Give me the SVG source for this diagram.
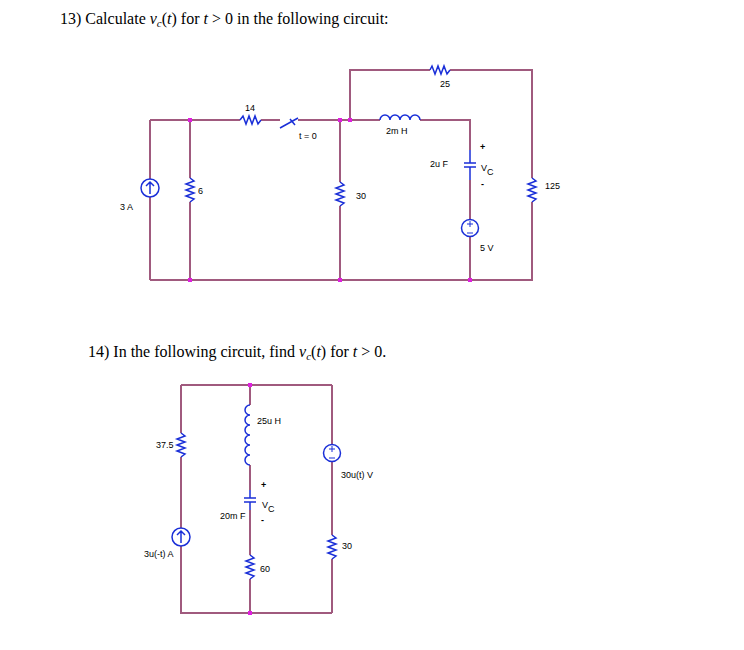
<svg xmlns="http://www.w3.org/2000/svg" width="744" height="650" viewBox="0 0 744 650">
<style>
.w{stroke:#a05a7e;stroke-width:2;fill:none}
.c{stroke:#1a2fd8;stroke-width:1.5;fill:none}
.s{stroke:#1a2fd8;stroke-width:1;fill:none}
.t{font-family:"Liberation Serif",serif;font-size:16px;fill:#000}
.l{font-family:"Liberation Sans",sans-serif;font-size:9px;fill:#000}
.d{fill:#e020e0}
</style>
<rect width="744" height="650" fill="#fff"/>
<text class="t" x="60" y="24">13) Calculate <tspan font-style="italic">v</tspan><tspan font-size="11" font-style="italic" dy="3">c</tspan><tspan dy="-3">(</tspan><tspan font-style="italic">t</tspan>) for <tspan font-style="italic">t</tspan> &gt; 0 in the following circuit:</text>
<text class="t" x="88" y="357">14) In the following circuit, find <tspan font-style="italic">v</tspan><tspan font-size="11" font-style="italic" dy="3">c</tspan><tspan dy="-3">(</tspan><tspan font-style="italic">t</tspan>) for <tspan font-style="italic">t</tspan> &gt; 0.</text>
<g id="connectors">
<path class="w" d="M150,120H240M261,120H280M298,120H380M420,120H470V150M470,180V219.5M470,236.5V280M150,280H532V202M532,178V70H450M430,70H350V120M150,120V179M150,197V280M190,120V178M190,202V280M340,120V182M340,206V280"/>
<path class="w" d="M181,385H332M181,385V433M181,457V528M181,546V613H332M250,385V405M250,465V490M250,510V555M250,579V613M332,385V444.5M332,461.5V535M332,559V613"/>
</g>
<g id="c1">
<g id="src3A"><circle class="c" cx="150" cy="188" r="9"/><path class="c" d="M150,194V182M146,186L150,182L154,186"/><text class="l" x="120" y="210">3 A</text></g>
<g id="r6"><path class="c" d="M190,178L194,181L186,184L194,187L186,190L194,193L186,196L194,199L190,202"/><text class="l" x="198" y="194">6</text></g>
<g id="r14"><path class="c" d="M240,120L243,116L246,124L249,116L252,124L255,116L258,124L261,120"/><text class="l" x="245" y="111">14</text></g>
<g id="sw"><path class="c" d="M280,128L298,118M290,119L295,125"/><text class="l" x="299" y="139" font-size="7">t = 0</text></g>
<g id="r30"><path class="c" d="M340,182L344,185L336,188L344,191L336,194L344,197L336,200L344,203L340,206"/><text class="l" x="356" y="199">30</text></g>
<g id="l2m"><path class="c" d="M380,120a5,5 0 0 1 10,0a5,5 0 0 1 10,0a5,5 0 0 1 10,0a5,5 0 0 1 10,0"/><text class="l" x="386" y="134">2m H</text></g>
<g id="r25"><path class="c" d="M430,70L432,66L435,74L438,66L441,74L444,66L447,74L450,70"/><text class="l" x="440" y="87">25</text></g>
<g id="cap"><path class="c" d="M470,150V163M464,163H476M464,167H476M470,167V180"/><text class="l" x="430" y="167">2u F</text><text class="l" x="480" y="150" font-weight="bold" font-size="11">+</text><text class="l" x="481" y="171" font-size="10">V</text><text class="l" x="487" y="175" font-size="7">C</text><text class="l" x="481" y="187" font-weight="bold" font-size="11">-</text></g>
<g id="v5"><circle class="c" cx="470" cy="228" r="8.5"/><path class="s" d="M470,221V227M467,224H473M467,233H473"/><text class="l" x="480" y="251">5 V</text></g>
<g id="r125"><path class="c" d="M532,178L536,181L528,184L536,187L528,190L536,193L528,196L536,199L532,202"/><text class="l" x="545" y="189">125</text></g>
<rect class="d" x="188" y="118" width="4" height="4"/><rect class="d" x="338" y="118" width="4" height="4"/><rect class="d" x="348" y="118" width="4" height="4"/><rect class="d" x="188" y="278" width="4" height="4"/><rect class="d" x="338" y="278" width="4" height="4"/><rect class="d" x="468" y="278" width="4" height="4"/>
</g>
<g id="c2">
<g id="r375"><path class="c" d="M181,433L185,436L177,439L185,442L177,445L185,448L177,451L185,454L181,457"/><text class="l" x="156" y="448">37.5</text></g>
<g id="src3u"><circle class="c" cx="181" cy="537" r="9"/><path class="c" d="M181,543V531M177,535L181,531L185,535"/><text class="l" x="144" y="557" font-family="Liberation Serif">3u(-t) A</text></g>
<g id="l25"><path class="c" d="M250,405a5,5 0 0 0 0,10a5,5 0 0 0 0,10a5,5 0 0 0 0,10a5,5 0 0 0 0,10a5,5 0 0 0 0,10a5,5 0 0 0 0,10"/><text class="l" x="257" y="424">25u H</text></g>
<g id="c20"><path class="c" d="M250,490V498M244,498H256M244,502H256M250,502V510"/><text class="l" x="220" y="519">20m F</text><text class="l" x="261" y="488" font-weight="bold" font-size="11">+</text><text class="l" x="262" y="508" font-size="10">V</text><text class="l" x="268" y="512" font-size="7">C</text><text class="l" x="261" y="523" font-weight="bold" font-size="11">-</text></g>
<g id="r60"><path class="c" d="M250,555L254,558L246,561L254,564L246,567L254,570L246,573L254,576L250,579"/><text class="l" x="260" y="572">60</text></g>
<g id="v30"><circle class="c" cx="332" cy="453" r="8.5"/><path class="s" d="M332,446V452M329,449H335M329,458H335"/><text class="l" x="341" y="478" font-family="Liberation Serif">30u(t) V</text></g>
<g id="r30b"><path class="c" d="M332,535L336,538L328,541L336,544L328,547L336,550L328,553L336,556L332,559"/><text class="l" x="342" y="549">30</text></g>
<rect class="d" x="248" y="383" width="4" height="4"/><rect class="d" x="248" y="611" width="4" height="4"/>
</g>
</svg>
